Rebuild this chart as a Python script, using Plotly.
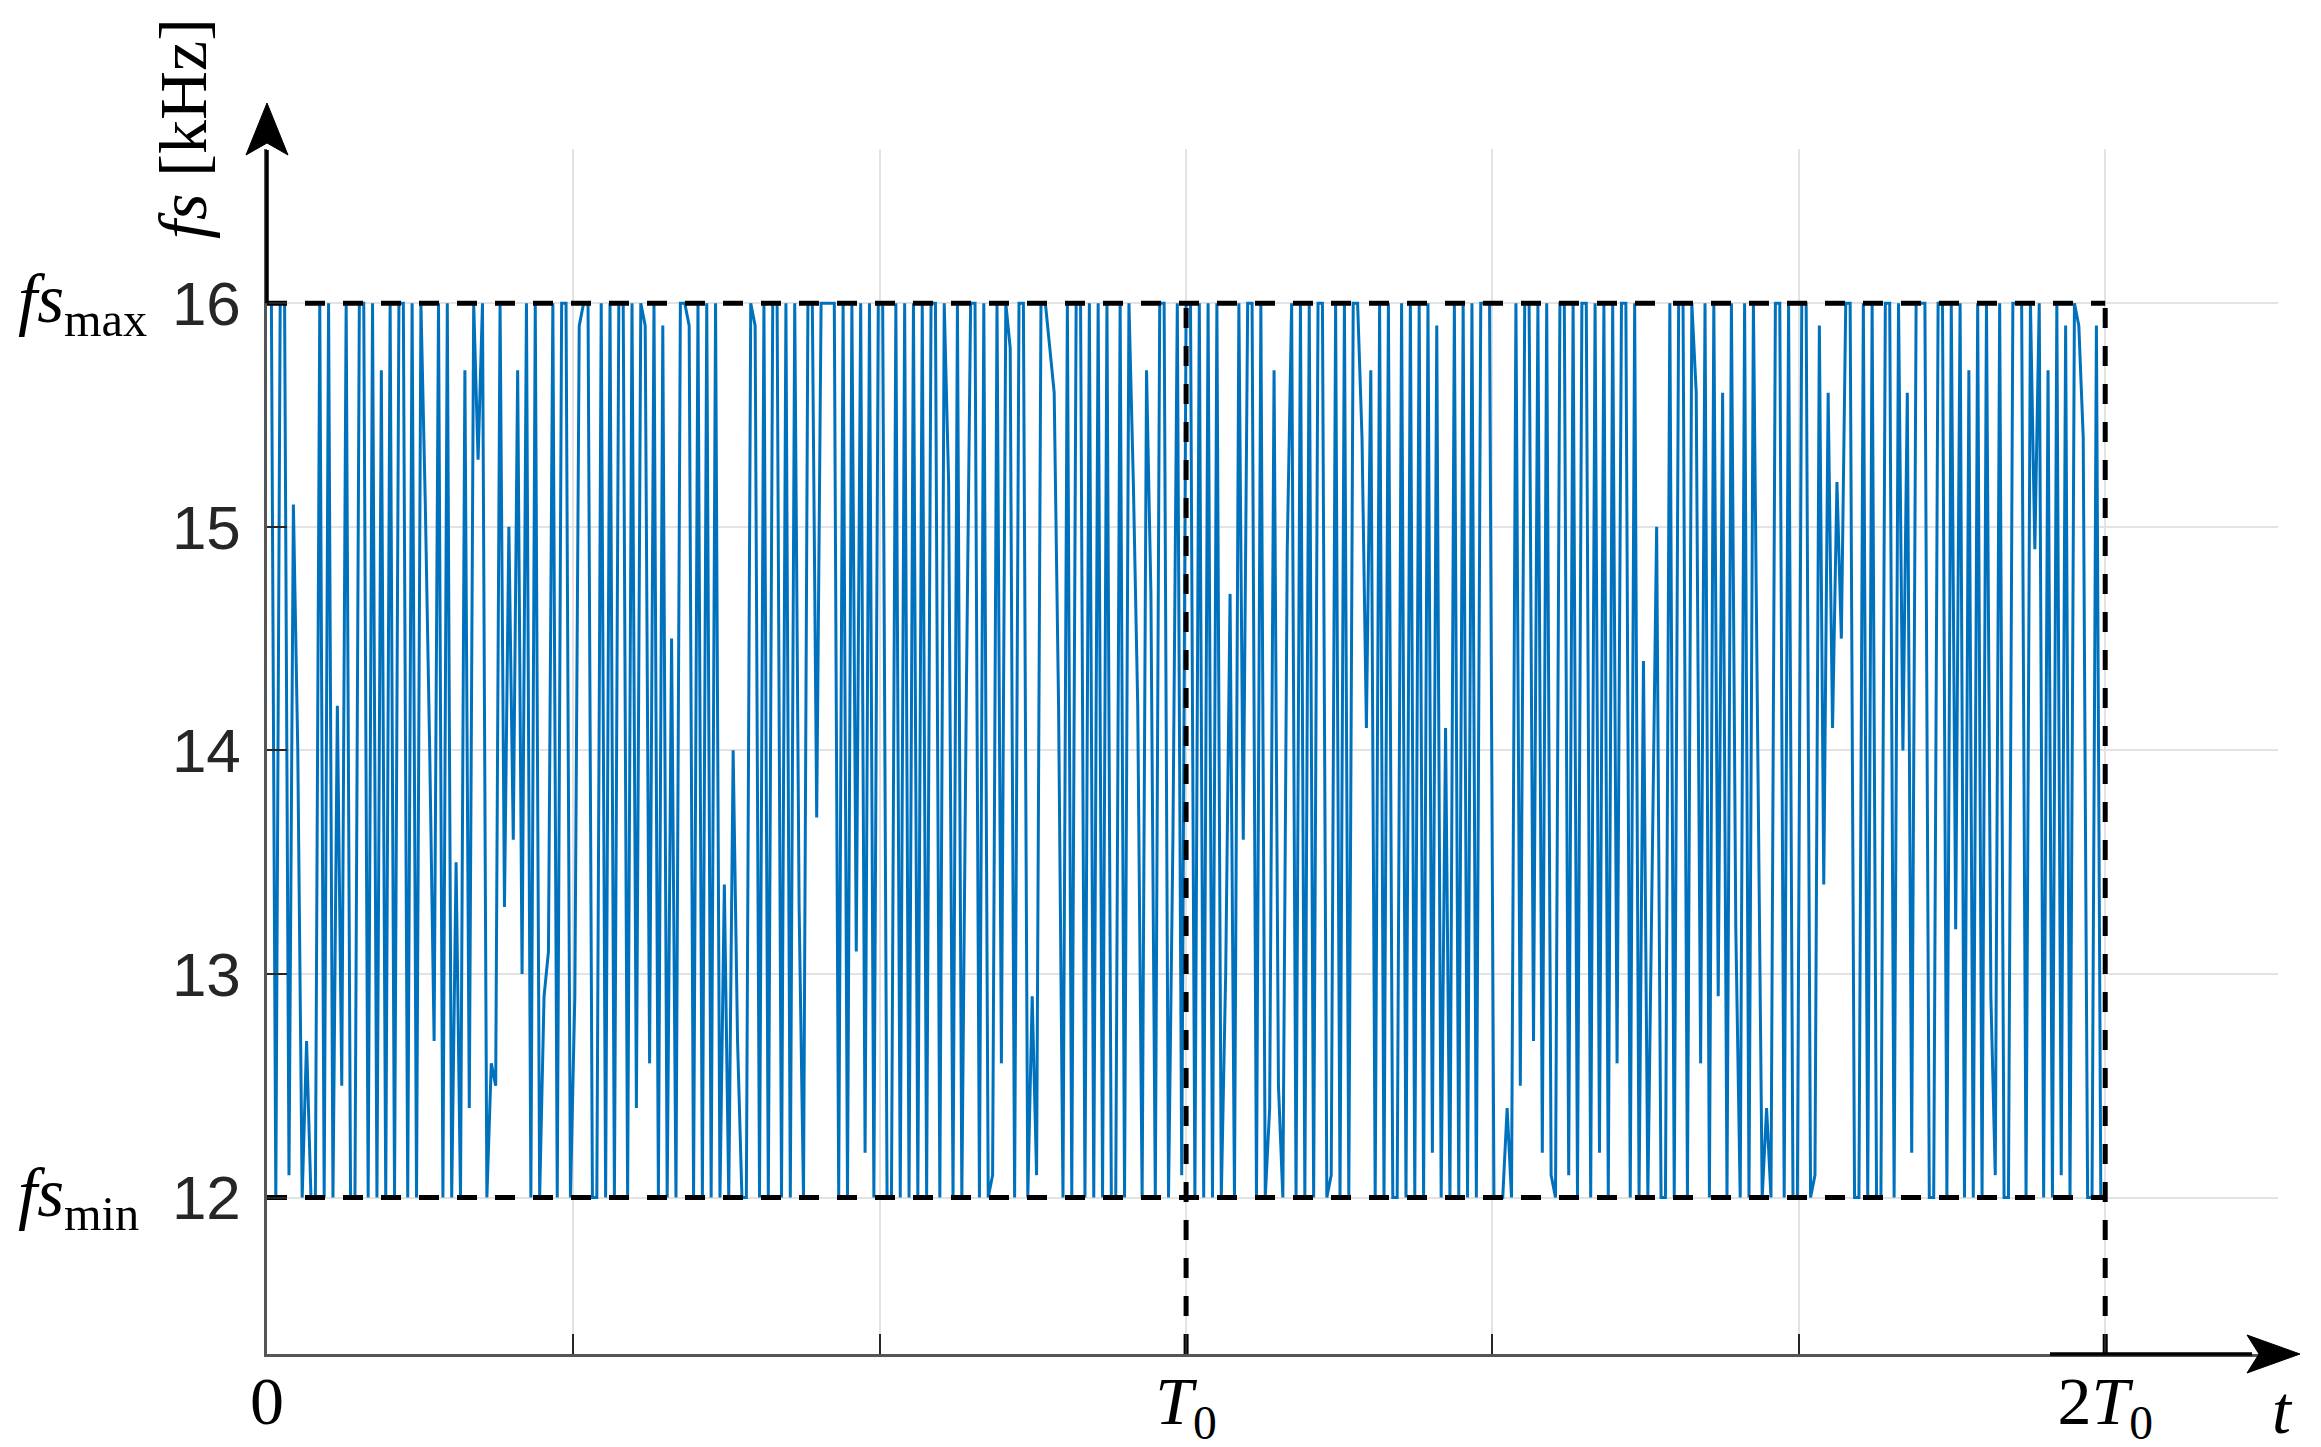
import numpy as np
import plotly.graph_objects as go

# ---- data (kHz) ----
T0 = 1.0
fs_max = 16
fs_min = 12

seg1 = [16, 16, 12, 16, 16, 12.1, 15.1, 14.0, 12, 12.7, 12, 12, 16, 12, 16, 12, 14.2, 12.5, 16, 12,
        12, 16, 16, 12, 16, 12, 15.7, 12, 16, 12, 16, 16, 12, 16, 12, 16, 15.1, 14.0, 12.7, 16,
        12, 16, 12, 13.5, 12, 15.7, 12.4, 16, 15.3, 16, 12, 12.6, 12.5, 16, 13.3, 15.0, 13.6, 15.7, 13.0, 16,
        12, 16, 12, 12.9, 13.1, 16, 12, 16, 16, 12, 12.9, 15.9, 16, 16, 12, 12, 16, 12]
seg2 = [16, 12, 16, 16, 12, 16, 12.4, 16, 15.9, 12.6, 16, 12, 15.9, 12, 14.5, 12, 16, 16, 15.9, 12,
        16, 12, 16, 12, 16, 12, 13.4, 12, 14.0, 12.7, 12, 12, 16, 15.9, 12, 16, 12, 16, 16, 12,
        16, 12, 16, 13.3, 12, 16, 16, 13.7, 16, 16, 16, 16, 12, 16, 12, 16, 13.1, 16, 12.2, 16,
        12, 16, 16, 12, 12, 16, 12, 16]
seg3 = [12, 16, 12, 16, 12, 16, 16, 12, 16, 15.2, 12, 16, 12, 14.2, 16, 16, 12, 16, 12, 12.1,
        16, 12.6, 16, 15.8, 12, 16, 16, 12, 12.9, 12.1, 16, 16, 15.8, 15.6, 14.2, 12, 16, 12, 16, 16,
        12, 16, 12, 16, 12, 16, 12, 12, 16, 12, 16, 15.2, 14.2, 12, 15.7, 14.7, 12, 16, 16, 12,
        13.6, 16, 12.1, 16, 16, 12, 16, 12]
seg4 = [16, 12, 16, 12, 13.0, 14.7, 12, 16, 13.6, 16, 16, 12, 16, 12, 12.4, 15.7, 12.5, 12, 14.9, 16,
        12, 16, 12, 16, 12, 16, 16, 12, 12.1, 16, 12, 16, 12, 16, 16, 15.4, 14.1, 15.7, 12, 16,
        12, 16, 12, 12, 16, 12, 16, 12, 16, 12, 16, 12.2, 15.9, 12, 14.1, 12, 16, 12, 16, 12,
        16, 12, 16, 16, 16, 12, 12]
seg5 = [12, 12.4, 12, 16, 12.5, 16, 16, 12.7, 16, 12.2, 16, 12.1, 12, 16, 16, 12.1, 16, 12, 16, 16,
        12, 16, 12.2, 16, 12, 16, 12.6, 16, 16, 12, 16, 12, 14.4, 12, 13.5, 15.0, 12, 12, 16, 12,
        16, 16, 12, 16, 15.6, 12.6, 16, 12, 16, 12.9, 15.6, 12, 16, 13.2, 12, 16, 12, 16, 14.0, 12,
        12.4, 12, 16, 16, 12, 16, 12]
seg6 = [12, 16, 16, 12, 12.1, 15.9, 13.4, 15.6, 14.1, 15.2, 14.5, 16, 16, 12, 12, 16, 12, 16, 12, 12,
        16, 16, 12, 16, 14.0, 15.6, 12.2, 16, 16, 16, 12, 12, 16, 16, 12, 16, 13.2, 16, 12, 15.7,
        12, 16, 12, 16, 12.9, 12.1, 16, 12, 12, 16, 16, 16, 12, 16, 14.9, 16, 12, 15.7, 12, 16,
        12.1, 15.9, 12, 16, 15.9, 15.4, 12, 12, 15.9, 12, 12]

fs = seg1 + seg2 + seg3 + seg4 + seg5 + seg6
t = np.linspace(0, 2 * T0, len(fs))

x_ticks = [0, 1, 2]
x_ticktext = ["0", "<i>T</i><sub>0</sub>", "2<i>T</i><sub>0</sub>"]
x_minor_ticks = [1/3, 2/3, 4/3, 5/3]
y_ticks = [12, 13, 14, 15, 16]

x_range = [0, 2.188]
y_range = [11.3, 16.69]

blue = "#0072BD"
dash_style = dict(color="black", width=5, dash="20px,18px")

fig = go.Figure()
fig.add_trace(go.Scatter(x=t, y=fs, mode="lines", line=dict(color=blue, width=3),
                         hoverinfo="skip"))
# reference dashed lines
fig.add_trace(go.Scatter(x=[0, 2 * T0], y=[fs_max, fs_max], mode="lines", line=dash_style))
fig.add_trace(go.Scatter(x=[0, 2 * T0], y=[fs_min, fs_min], mode="lines", line=dash_style))
fig.add_trace(go.Scatter(x=[T0, T0], y=[y_range[0], fs_max], mode="lines", line=dash_style))
fig.add_trace(go.Scatter(x=[2 * T0, 2 * T0], y=[y_range[0], fs_max], mode="lines", line=dash_style))

serif = "Liberation Serif"
sans = "Liberation Sans"
grid = "#e3e3e3"

# body margin of the page shifts the figure by 8px; compensate in the margins
L, R, T, B = 259, 51, 141, 101

fig.update_layout(
    width=2321, height=1447,
    margin=dict(l=L, r=R, t=T, b=B, autoexpand=False),
    plot_bgcolor="white", paper_bgcolor="white",
    showlegend=False,
    xaxis=dict(range=x_range, tickvals=x_ticks, ticktext=x_ticktext, automargin=False,
               ticks="inside", ticklen=20, tickwidth=2, tickcolor="#262626",
               showgrid=True, gridcolor=grid, gridwidth=1.5,
               minor=dict(tickvals=x_minor_ticks, ticks="inside", ticklen=20, tickwidth=2,
                          tickcolor="#262626", showgrid=True, gridcolor=grid, gridwidth=1.5),
               showline=True, linecolor="#555555", linewidth=2.5, zeroline=False,
               tickfont=dict(family=serif, size=68, color="black"),
               ticklabelstandoff=-14),
    yaxis=dict(range=y_range, tickvals=y_ticks, automargin=False,
               ticks="inside", ticklen=20, tickwidth=2, tickcolor="#262626",
               showgrid=True, gridcolor=grid, gridwidth=1.5,
               showline=True, linecolor="#555555", linewidth=2.5, zeroline=False,
               tickfont=dict(family=sans, size=62, color="#262626"),
               ticklabelstandoff=11),
)

# axis arrows (paper coords)
W = 2321.0 - L - R
H = 1447.0 - T - B
y16_paper = (fs_max - y_range[0]) / (y_range[1] - y_range[0])
ytip = 1 + 46 / H
yback = ytip - 52 / H
ynotch = ytip - 40 / H
hw = 21 / W
fig.add_shape(type="line", xref="paper", yref="paper", x0=0, x1=0, y0=y16_paper, y1=yback + 5 / H,
              line=dict(color="black", width=3.5))
fig.add_shape(type="path", xref="paper", yref="paper",
              path=f"M 0,{ytip} L {-hw},{yback} L 0,{ynotch} L {hw},{yback} Z",
              fillcolor="black", line=dict(color="black", width=1))

xtip = 2033 / W
xback = xtip - 53 / W
xnotch = xtip - 41 / W
hh = 19 / H
fig.add_shape(type="line", xref="paper", yref="paper", x0=1783 / W, x1=xback + 5 / W, y0=0, y1=0,
              line=dict(color="black", width=3.5))
fig.add_shape(type="path", xref="paper", yref="paper",
              path=f"M {xtip},0 L {xback},{hh} L {xnotch},0 L {xback},{-hh} Z",
              fillcolor="black", line=dict(color="black", width=1))

# labels
fig.add_annotation(xref="paper", yref="paper", x=-84 / W, y=1 + 20 / H,
                   text="<i>fs</i> [kHz]", textangle=-90, showarrow=False,
                   font=dict(family=serif, size=68, color="black"),
                   xanchor="center", yanchor="middle")
fig.add_annotation(xref="paper", yref="y", x=-251 / W, y=fs_max,
                   text="<i>fs</i><sub>max</sub>", showarrow=False,
                   font=dict(family=serif, size=69, color="black"),
                   xanchor="left", yanchor="middle")
fig.add_annotation(xref="paper", yref="y", x=-251 / W, y=fs_min,
                   text="<i>fs</i><sub>min</sub>", showarrow=False,
                   font=dict(family=serif, size=69, color="black"),
                   xanchor="left", yanchor="middle")
fig.add_annotation(xref="paper", yref="paper", x=2015 / W, y=-56 / H,
                   text="<i>t</i>", showarrow=False,
                   font=dict(family=serif, size=68, color="black"),
                   xanchor="center", yanchor="middle")

fig.write_html("out.html")
